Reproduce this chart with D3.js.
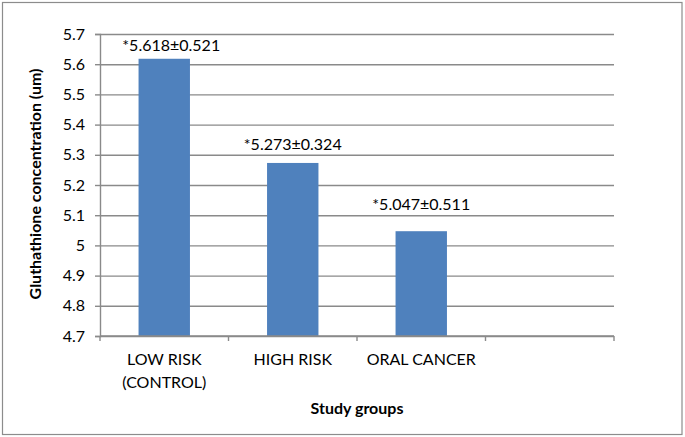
<!DOCTYPE html>
<html>
<head>
<meta charset="utf-8">
<script src="https://cdn.jsdelivr.net/npm/d3@7"></script>
<style>
  body { margin: 0; background: #fff; }
  svg text { font-family: Lato, "Open Sans", sans-serif; fill: #000; }
</style>
</head>
<body>
<div id="chart"></div>
<script>
// data
const categories = ['LOW RISK\n(CONTROL)', 'HIGH RISK', 'ORAL CANCER', ''];
const values = [5.618, 5.273, 5.047, null];
const labels = ['*5.618±0.521', '*5.273±0.324', '*5.047±0.511', ''];
const yTicks = [4.7, 4.8, 4.9, 5, 5.1, 5.2, 5.3, 5.4, 5.5, 5.6, 5.7];

const width = 685;
const height = 437;
const margin = { top: 34, right: 71, bottom: 101, left: 100 };
const innerWidth = width - margin.left - margin.right;
const innerHeight = height - margin.top - margin.bottom;

// labels were placed by hand in the original: lift above bar top and sideways nudge, px
const labelLift = [8, 13, 21, 0];
const labelNudge = [7, 0, 0, 0];

const svg = d3.select('#chart')
  .append('svg')
  .attr('width', width)
  .attr('height', height);

// outer frame
svg.append('rect')
  .attr('x', 2.5)
  .attr('y', 2.5)
  .attr('width', 679.5)
  .attr('height', 432)
  .attr('fill', '#fff')
  .attr('stroke', '#8c8c8c')
  .attr('stroke-width', 1.2);

const g = svg.append('g')
  .attr('transform', `translate(${margin.left},${margin.top})`);

const x = d3.scaleBand()
  .domain(d3.range(categories.length))
  .range([0, innerWidth])
  .padding(0);

const y = d3.scaleLinear()
  .domain([4.7, 5.7])
  .range([innerHeight, 0]);

// grid lines
g.append('g')
  .attr('class', 'grid')
  .call(d3.axisLeft(y).tickValues(yTicks).tickSize(-innerWidth).tickFormat(() => ''))
  .call(s => s.select('.domain').remove())
  .call(s => s.selectAll('line').attr('stroke', '#8a8a8a').attr('stroke-width', 1.4));

// y axis
g.append('g')
  .attr('class', 'y-axis')
  .call(d3.axisLeft(y).tickValues(yTicks).tickSize(5).tickPadding(10).tickFormat(d => String(+d.toFixed(1))))
  .call(s => s.select('.domain').attr('stroke', '#8a8a8a').attr('stroke-width', 1.4))
  .call(s => s.selectAll('line').attr('stroke', '#8a8a8a').attr('stroke-width', 1.4))
  .call(s => s.selectAll('text').style('font-size', '16px'));

const bars = values.map((v, i) => ({ v, i })).filter(d => d.v !== null);

// bars
const barW = x.bandwidth() * 0.4;
g.selectAll('.bar')
  .data(bars)
  .enter()
  .append('rect')
  .attr('class', 'bar')
  .attr('x', d => x(d.i) + (x.bandwidth() - barW) / 2)
  .attr('y', d => y(d.v))
  .attr('width', barW)
  .attr('height', d => innerHeight - y(d.v))
  .attr('fill', '#4f81bd');

// x axis
const xAxis = g.append('g')
  .attr('class', 'x-axis')
  .attr('transform', `translate(0,${innerHeight})`);

xAxis.append('line')
  .attr('x1', 0).attr('x2', innerWidth)
  .attr('stroke', '#8a8a8a').attr('stroke-width', 1.4);

xAxis.selectAll('.tick')
  .data(d3.range(categories.length + 1))
  .enter()
  .append('line')
  .attr('x1', i => i * x.step())
  .attr('x2', i => i * x.step())
  .attr('y1', 0).attr('y2', 5)
  .attr('stroke', '#8a8a8a').attr('stroke-width', 1.4);

xAxis.selectAll('.cat')
  .data(categories.map((c, i) => ({ c, i })).filter(d => d.c !== ''))
  .enter()
  .append('text')
  .attr('class', 'cat')
  .attr('text-anchor', 'middle')
  .style('font-size', '16px')
  .each(function (d) {
    const cx = x(d.i) + x.bandwidth() / 2;
    d.c.split('\n').forEach((line, k) => {
      d3.select(this).append('tspan')
        .attr('x', cx)
        .attr('y', 29 + k * 23)
        .text(line);
    });
  });

// data labels
g.selectAll('.label')
  .data(bars)
  .enter()
  .append('text')
  .attr('class', 'label')
  .attr('x', d => x(d.i) + x.bandwidth() / 2 + labelNudge[d.i])
  .attr('y', d => y(d.v) - labelLift[d.i])
  .attr('text-anchor', 'middle')
  .style('font-size', '16px')
  .text(d => labels[d.i]);

// axis titles
svg.append('text')
  .attr('transform', `translate(41,184) rotate(-90)`)
  .attr('text-anchor', 'middle')
  .style('font-size', '16px')
  .style('font-weight', 'bold')
  .text('Gluthathione concentration (um)');

svg.append('text')
  .attr('x', margin.left + innerWidth / 2)
  .attr('y', 414)
  .attr('text-anchor', 'middle')
  .style('font-size', '16px')
  .style('font-weight', 'bold')
  .text('Study groups');
</script>
</body>
</html>
